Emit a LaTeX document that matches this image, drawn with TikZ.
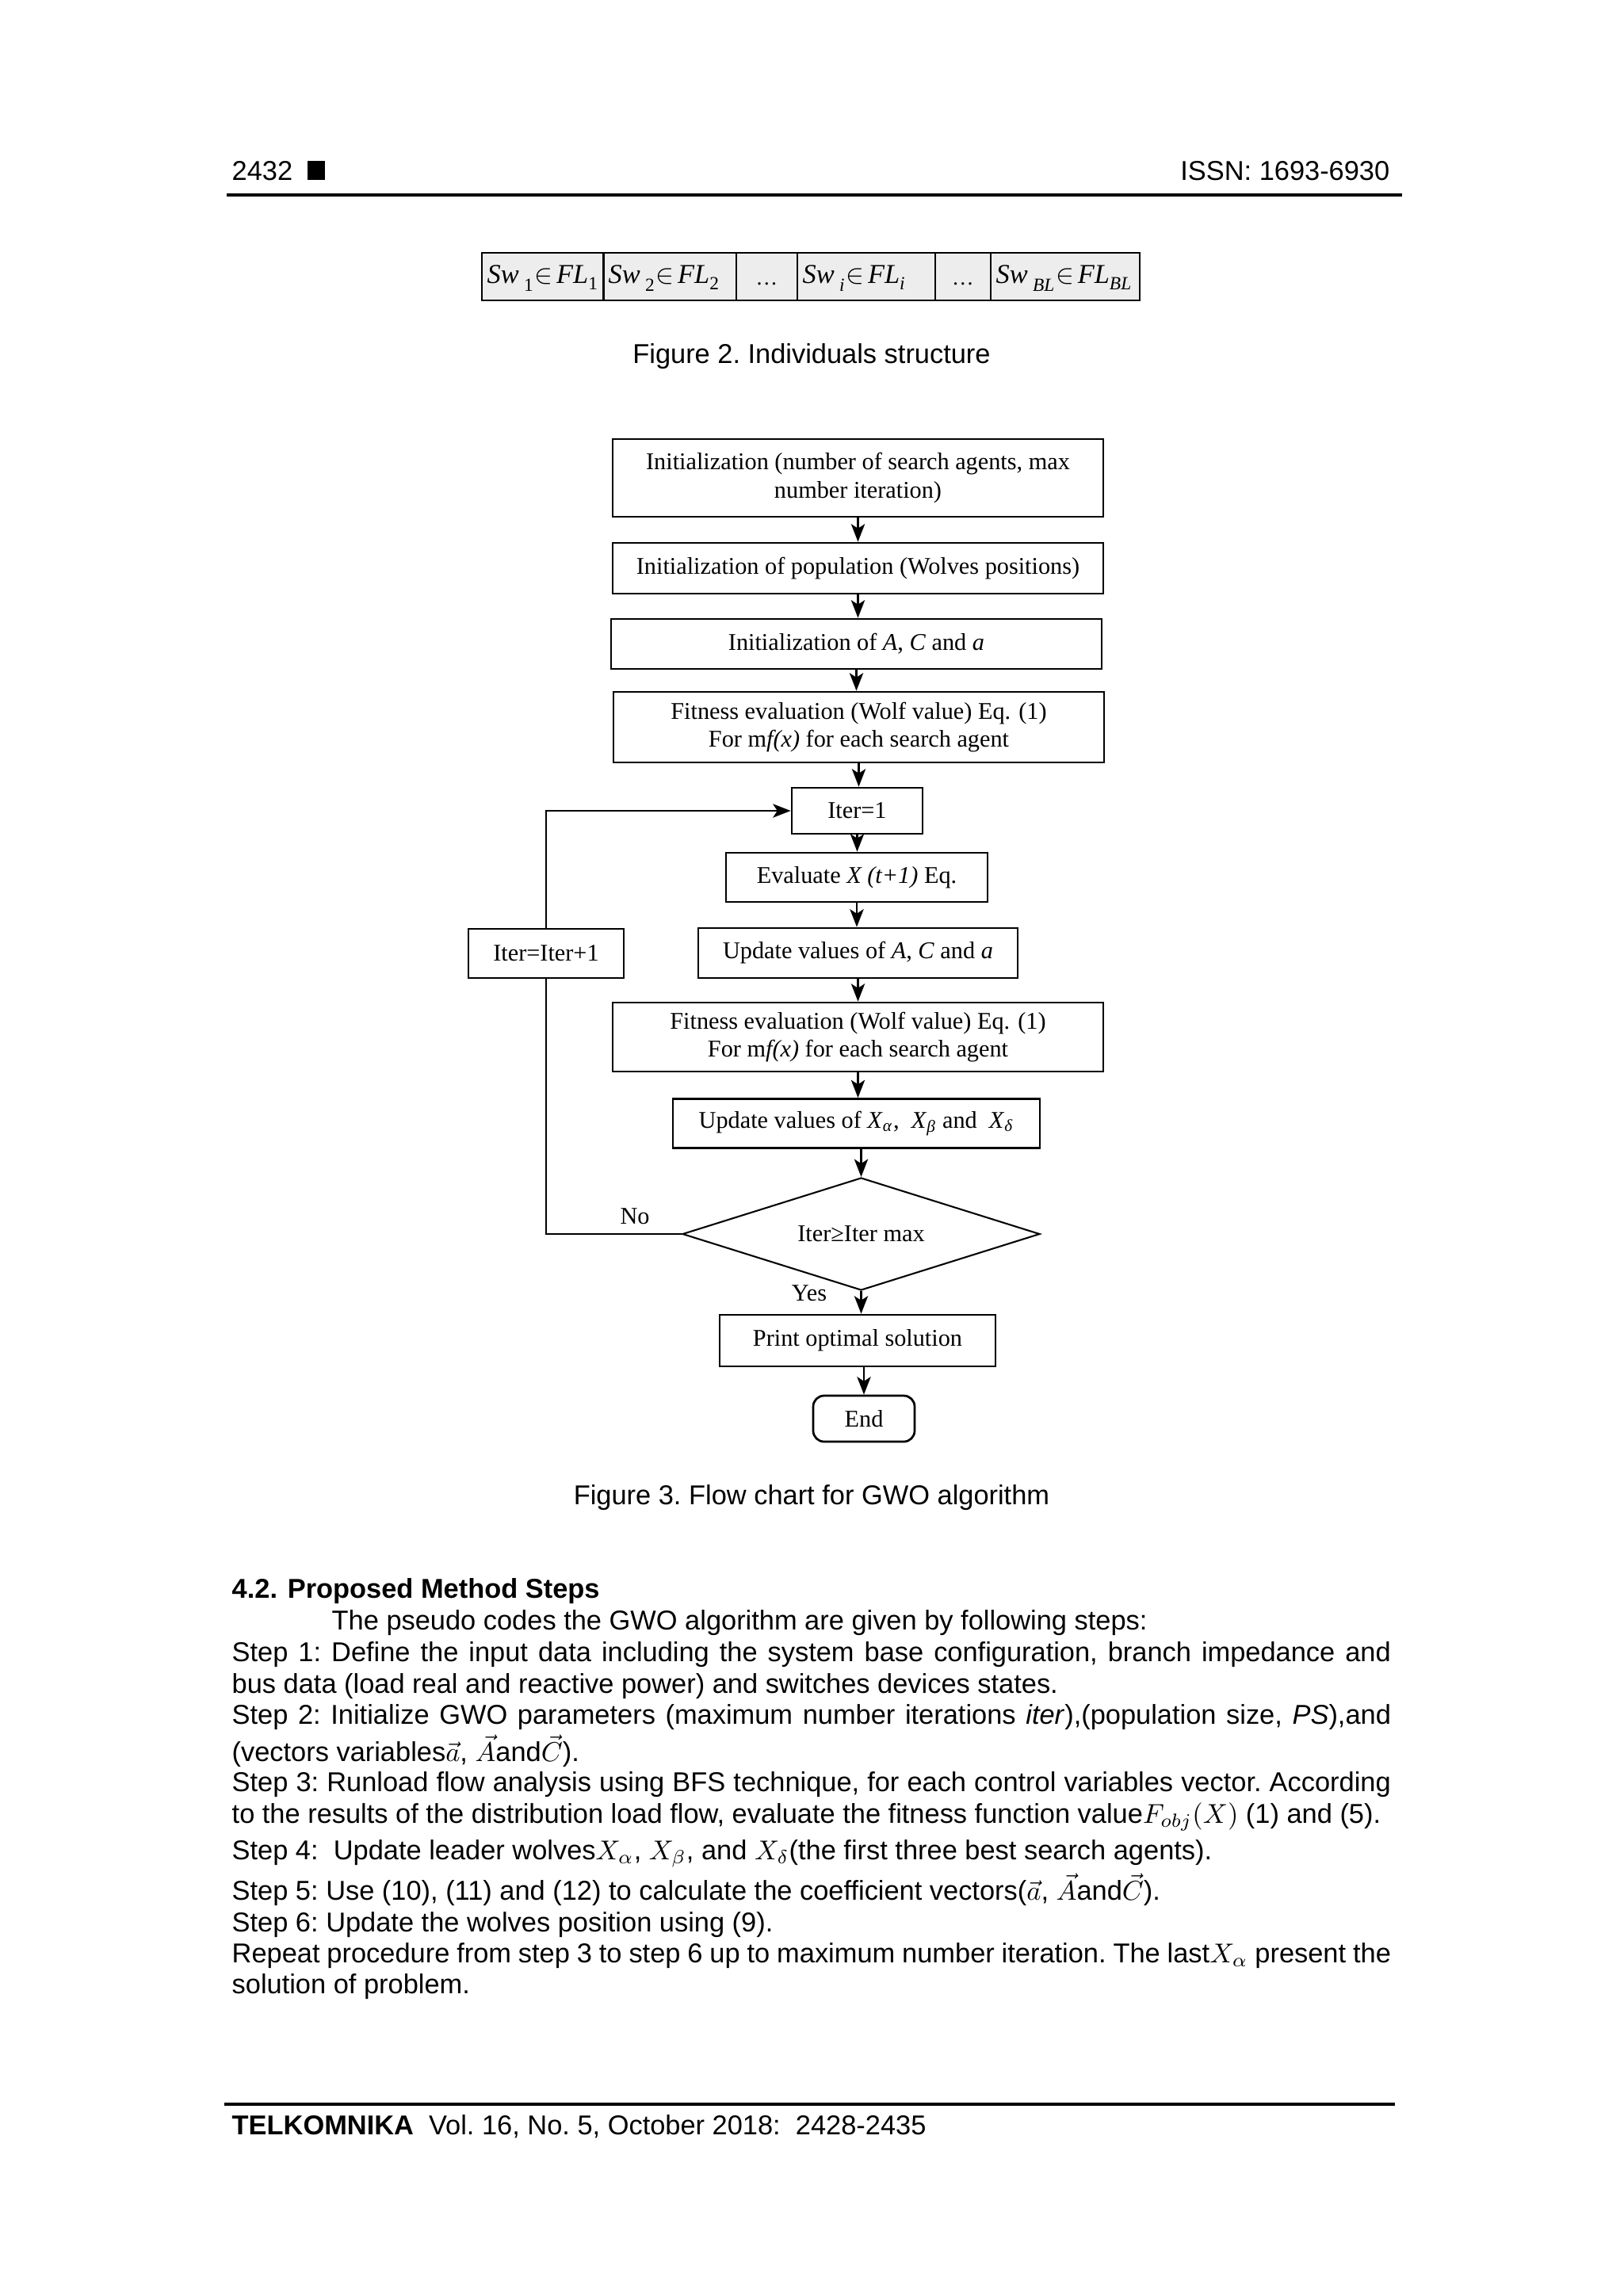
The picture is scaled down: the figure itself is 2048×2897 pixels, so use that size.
\documentclass[tikz,border=0pt]{standalone}
\usepackage{fontspec}
\setmainfont{Liberation Sans}
\newfontfamily\tnr{Liberation Serif}
\usetikzlibrary{shapes.geometric,arrows.meta}
\def\px{0.29065pt}
\definecolor{cellgray}{RGB}{237,237,237}
\newcommand{\swcell}[2]{{\itshape Sw}\hspace{1.8pt}\raisebox{-3pt}{\fontsize{6.8}{7}\selectfont #1}\hspace{0.5pt}$\in$\hspace{1.4pt}{\itshape FL}\raisebox{-2.5pt}{\fontsize{6.8}{7}\selectfont #2}}
\tikzset{
  fcbox/.style={draw, line width=0.8pt, inner sep=0pt, align=center, font=\tnr\fontsize{8.8}{10.2}\selectfont},
  cell/.style={draw, line width=0.6pt, fill=cellgray, inner sep=0pt, minimum height=60*\px},
  cellt/.style={anchor=base west, inner sep=0pt, font=\tnr\fontsize{10}{12}\selectfont},
  body/.style={anchor=base west, inner sep=0pt, font=\fontsize{10}{11.5}\selectfont\frenchspacing},
  arr/.style={line width=0.8pt, -{Stealth[length=6.5pt,width=5pt,inset=1.6pt]}},
  loopline/.style={line width=0.8pt},
  pagerule/.style={line width=1.1pt},
  fclabel/.style={inner sep=0pt, font=\tnr\fontsize{8.8}{10.2}\selectfont},
}
\begin{document}
\begin{tikzpicture}[x=\px, y=-\px]
\fill[white] (0,0) rectangle (2048,2897);
\useasboundingbox (0,0) rectangle (2048,2897);

% header
\node[body] (hdl) at (292,227) {2432\hspace{5.5pt}\rule{6.3pt}{7pt}};
\node[body, anchor=base east] (hdr) at (1754,227) {ISSN: 1693-6930};
\coordinate (hl1) at (286,246);
\coordinate (hl2) at (1769,246);
\draw[pagerule] (hl1) -- (hl2);

% Figure 2 table
\node[cell, minimum width=153.5*\px] (c1) at (684.75,349) {};
\node[cell, minimum width=167.5*\px] (c2) at (845.25,349) {};
\node[cell, minimum width=77*\px] (c3) at (967.5,349) {};
\node[cell, minimum width=174*\px] (c4) at (1093,349) {};
\node[cell, minimum width=70*\px] (c5) at (1215,349) {};
\node[cell, minimum width=188*\px] (c6) at (1344,349) {};
\node[cellt] (t1) at (614,357) {\swcell{1}{1}};
\node[cellt] (t2) at (767,357) {\swcell{2}{2}};
\node[cellt, anchor=base] (t3) at (967.5,359) {\fontsize{8}{8}\selectfont\ldots};
\node[cellt] (t4) at (1012,357) {\swcell{\itshape i}{\itshape i}};
\node[cellt, anchor=base] (t5) at (1215,359) {\fontsize{8}{8}\selectfont\ldots};
\node[cellt] (t6) at (1256,357) {\swcell{\itshape BL}{\itshape BL}};
\node[body, anchor=base] (cap2) at (1024,458) {Figure 2. Individuals structure};

% flowchart
\node[fcbox, minimum width=619*\px, minimum height=98*\px] (b1) at (1082.5,603) {Initialization (number of search agents, max\\number iteration)};
\node[fcbox, minimum width=619*\px, minimum height=64*\px] (b2) at (1082.5,717) {Initialization of population (Wolves positions)};
\node[fcbox, minimum width=619*\px, minimum height=63*\px] (b3) at (1080.5,812.5) {Initialization of \textit{A}, \textit{C} and \textit{a}};
\node[fcbox, minimum width=619*\px, minimum height=89*\px] (b4) at (1083.5,917.5) {Fitness evaluation (Wolf value) Eq. (1)\\For m\textit{f(x)} for each search agent};
\node[fcbox, minimum width=165*\px, minimum height=58*\px] (it1) at (1081.5,1023) {Iter=1};
\node[fcbox, minimum width=330*\px, minimum height=62*\px] (ev) at (1081,1107) {Evaluate \textit{X (t+1)} Eq.};
\node[fcbox, minimum width=403*\px, minimum height=63*\px] (up) at (1082.5,1202.5) {Update values of \textit{A}, \textit{C} and \textit{a}};
\node[fcbox, minimum width=196*\px, minimum height=62*\px] (inc) at (689,1203) {Iter=Iter+1};
\node[fcbox, minimum width=619*\px, minimum height=87*\px] (f2) at (1082.5,1308.5) {Fitness evaluation (Wolf value) Eq. (1)\\For m\textit{f(x)} for each search agent};
\node[fcbox, minimum width=463*\px, minimum height=62*\px] (ux) at (1080.5,1417.5) {Update values of \textit{X}\textsubscript{\textit{α}},\ \ \textit{X}\textsubscript{\textit{β}} and\ \ \textit{X}\textsubscript{\textit{δ}}};
\node[fcbox, diamond, line width=0.6pt, aspect=3.18, minimum width=451*\px, minimum height=142*\px] (dia) at (1086.5,1557) {Iter≥Iter max};
\node[fcbox, minimum width=348*\px, minimum height=65*\px] (pr) at (1082,1691.5) {Print optimal solution};
\node[fcbox, rounded corners=4pt, minimum width=128*\px, minimum height=58*\px] (en) at (1090,1790) {End};
\node[fclabel] (no) at (801,1535) {No};
\node[fclabel] (yes) at (1021,1632) {Yes};

\draw[arr] (b1.south) -- (b1.south |- b2.north);
\draw[arr] (b2.south) -- (b2.south |- b3.north);
\draw[arr] (b3.south) -- (b3.south |- b4.north);
\draw[arr] (b4.south) -- (b4.south |- it1.north);
\draw[arr] (it1.south) -- (it1.south |- ev.north);
\draw[arr] (ev.south) -- (ev.south |- up.north);
\draw[arr] (up.south) -- (up.south |- f2.north);
\draw[arr] (f2.south) -- (f2.south |- ux.north);
\draw[arr] (dia.north |- ux.south) -- (dia.north);
\draw[arr] (dia.south) -- (dia.south |- pr.north);
\draw[arr] (en.north |- pr.south) -- (en.north);
\draw[loopline] (dia.west) -| (inc.south);
\draw[arr] (inc.north) |- (it1.west);

\node[body, anchor=base] (cap3) at (1024,1898) {Figure 3. Flow chart for GWO algorithm};

% text
\node[body, font=\fontsize{10}{11.5}\selectfont\bfseries] (sec) at (292,2016) {4.2. Proposed Method Steps};
\node[body] (l0) at (418,2056) {The pseudo codes the GWO algorithm are given by following steps:};
\node[body] (l1) at (292,2096) {\makebox[425pt][s]{Step 1: Define the input data including the system base configuration, branch impedance and}};
\node[body] (l2) at (292,2136) {bus data (load real and reactive power) and switches devices states.};
\node[body] (l3) at (292,2175) {\makebox[425pt][s]{Step 2: Initialize GWO parameters (maximum number iterations \textit{iter}),(population size, \textit{PS}),and}};
\node[body] (l4) at (292,2222) {(vectors variables$\vec{a}$, $\vec{A}$and$\vec{C}$).};
\node[body] (l5) at (292,2260) {\makebox[425pt][s]{Step 3: Runload flow analysis using BFS technique, for each control variables vector. According}};
\node[body] (l6) at (292,2300) {to the results of the distribution load flow, evaluate the fitness function value$F_{obj}(X)$ (1) and (5).};
\node[body] (l7) at (292,2346) {Step 4:\ \ Update leader wolves$X_\alpha$, $X_\beta$, and $X_\delta$(the first three best search agents).};
\node[body] (l8) at (292,2397) {Step 5: Use (10), (11) and (12) to calculate the coefficient vectors($\vec{a}$, $\vec{A}$and$\vec{C}$).};
\node[body] (l9) at (292,2437) {Step 6: Update the wolves position using (9).};
\node[body] (l10) at (292,2476) {\makebox[425pt][s]{Repeat procedure from step 3 to step 6 up to maximum number iteration. The last$X_\alpha$ present the}};
\node[body] (l11) at (292,2515) {solution of problem.};

% footer
\coordinate (fl1) at (283,2655);
\coordinate (fl2) at (1760,2655);
\draw[pagerule] (fl1) -- (fl2);
\node[body] (ftr) at (292,2693) {\textbf{TELKOMNIKA}\ \ Vol. 16, No. 5, October 2018:\ \ 2428-2435};
\end{tikzpicture}
\end{document}
